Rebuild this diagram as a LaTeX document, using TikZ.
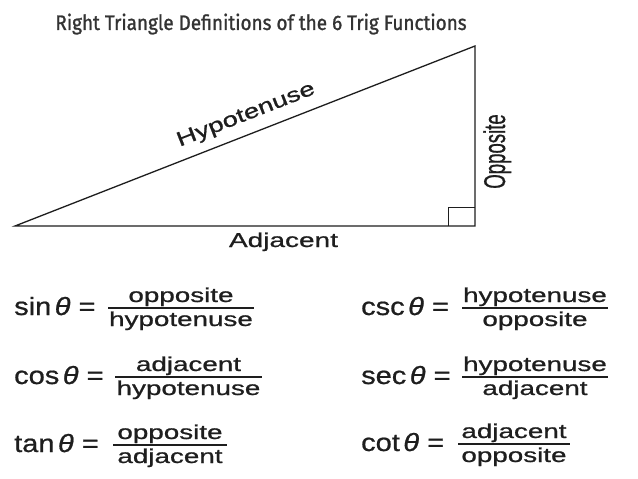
\documentclass[tikz,border=0pt]{standalone}
\usepackage{fontspec}
\usepackage{graphicx}
\setmainfont[FakeBold=0.7]{Liberation Sans}
\newfontfamily\titlefont[FakeBold=1.2]{Fira Sans}
\definecolor{ink}{HTML}{1E1E1E}
\definecolor{titlegray}{HTML}{333333}
\newcommand{\frtxt}[1]{\fontsize{20}{20}\selectfont\scalebox{1.39}[1]{#1}}
\newcommand{\lbtxt}[1]{\fontsize{25}{25}\selectfont\scalebox{1.16}[1]{#1}}
\tikzset{
  edge/.style={draw=ink, line width=1.3pt, line join=miter},
  sq/.style={draw=ink, line width=1pt},
  lbl/.style={anchor=base west, inner sep=0pt, text=ink},
  frt/.style={anchor=base, inner sep=0pt, text=ink},
  fbar/.style={draw=ink, line width=1.4pt},
  tri/.style={inner sep=0pt, text=ink},
}
\newcommand{\myfrac}[8]{%
  \node[lbl] (#1l) at (#3,#5+7) {\lbtxt{#2\hspace{3pt}\textit{θ}\hspace{7pt}=}};
  \node[frt] (#1n) at (#4,#5-6) {\frtxt{#7}};
  \node[frt] (#1d) at (#4,#5+18) {\frtxt{#8}};
  \draw[fbar] (#4-#6,#5) -- (#4+#6,#5);
}
\begin{document}
\begin{tikzpicture}[x=1pt,y=-1pt]
\useasboundingbox[fill=white] (0,0) rectangle (638,479);
% title
\node[anchor=base, inner sep=0pt, text=titlegray] (title) at (261,30)
  {\titlefont\fontsize{21}{21}\selectfont\scalebox{0.9}[1]{Right Triangle Definitions of the 6 Trig Functions}};
% triangle
\coordinate (A) at (15,226);
\coordinate (B) at (475,226);
\coordinate (C) at (475,46);
\draw[edge] (A) -- (B) -- (C) -- cycle;
\draw[sq] (448,226) |- (475,207.5);
\node[tri, anchor=base, rotate=21.4] (hyp) at (248,120)
  {\fontsize{20.5}{20.5}\selectfont\scalebox{1.34}[1]{Hypotenuse}};
\node[tri, anchor=base, rotate=90] (opp) at (505,151.5)
  {\fontsize{30}{30}\selectfont\scalebox{0.62}[1]{Opposite}};
\node[tri, anchor=base] (adj) at (283.5,247)
  {\fontsize{20}{20}\selectfont\scalebox{1.4}[1]{Adjacent}};
% formulas
\myfrac{sin}{sin}{14}{181}{308}{73}{opposite}{hypotenuse}
\myfrac{cos}{cos}{14}{188.5}{377}{73.5}{adjacent}{hypotenuse}
\myfrac{tan}{tan}{14}{170}{445}{57}{opposite}{adjacent}
\myfrac{csc}{csc}{361}{535}{308}{73}{hypotenuse}{opposite}
\myfrac{sec}{sec}{361}{535}{377}{73}{hypotenuse}{adjacent}
\myfrac{cot}{cot}{361}{514}{444}{56}{adjacent}{opposite}
\end{tikzpicture}
\end{document}
